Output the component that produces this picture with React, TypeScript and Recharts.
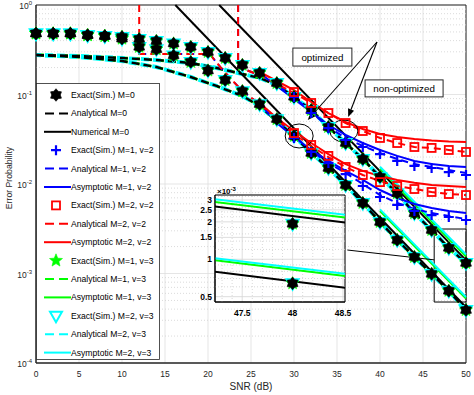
import React from 'react';
import {
  LineChart, Line, XAxis, YAxis, CartesianGrid, ReferenceLine, ReferenceArea, ReferenceDot, Legend,
} from 'recharts';

const FONT = '"Liberation Sans", Arial, Helvetica, sans-serif';
const AXIS = '#262626';
const BLACK = '#000000';
const BLUE = '#0000ff';
const RED = '#ff0000';
const GREEN = '#00ff00';
const CYAN = '#00ffff';

// ---------- axes / ticks ----------
const xTicks = [0, 5, 10, 15, 20, 25, 30, 35, 40, 45, 50];
const yTicks = [0.0001, 0.001, 0.01, 0.1, 1];
const minorMantissas = [2, 3, 4, 5, 6, 7, 8, 9];
const minorDecades = [0.0001, 0.001, 0.01, 0.1];

const insetXTicks = [47.5, 48, 48.5];
const insetYTicks = [0.0005, 0.001, 0.0015, 0.002, 0.0025, 0.003];
const insetXMinor = [47.3, 47.4, 47.6, 47.7, 47.8, 47.9, 48.1, 48.2, 48.3, 48.4];
const insetYMinor = [0.0006, 0.0007, 0.0008, 0.0009, 0.0012, 0.0014, 0.0016, 0.0018, 0.0022, 0.0024, 0.0026, 0.0028, 0.0032];

// ---------- data ----------
// Exact (simulation) markers, M=0 (v=3 markers coincide)
const snrSim = [0, 2, 4, 6, 8, 10, 12, 14, 16, 18, 20, 22, 24, 26, 28, 30, 32, 34, 36, 38, 40, 42, 44, 46, 48, 50];
const simM0NonOpt = [0.48, 0.48, 0.48, 0.46, 0.45, 0.44, 0.417, 0.396, 0.371, 0.34, 0.298, 0.256, 0.214, 0.174, 0.134, 0.094, 0.067, 0.0433, 0.0287, 0.019, 0.012, 0.0079, 0.0047, 0.00306, 0.00193, 0.00131];
const simM0Opt = [0.48, 0.48, 0.48, 0.46, 0.45, 0.42, 0.34, 0.32, 0.273, 0.231, 0.185, 0.145, 0.109, 0.078, 0.053, 0.0344, 0.0222, 0.0151, 0.00975, 0.00614, 0.00376, 0.00237, 0.00153, 0.00099, 0.00064, 0.00039];

// Analytical M=0 (v=3 analytical coincide)
const snrAna = [0, 5, 10, 14, 18, 21, 24, 26, 28, 30, 32, 34, 36, 38, 40, 42, 44, 46, 48, 50];
const anaM0NonOpt = [0.2763, 0.2692, 0.2557, 0.2429, 0.2249, 0.1977, 0.1695, 0.1529, 0.1277, 0.0938, 0.067, 0.0433, 0.0287, 0.019, 0.012, 0.0079, 0.0047, 0.00306, 0.00193, 0.00131];
const anaM0Opt = [0.2763, 0.2624, 0.2367, 0.2029, 0.1568, 0.1245, 0.0962, 0.0744, 0.0506, 0.0344, 0.0222, 0.0151, 0.00975, 0.00614, 0.00376, 0.00237, 0.00153, 0.00099, 0.00064, 0.00039];

// Numerical M=0 (straight asymptotes)
const snrNumNonOpt = [21.3, 50];
const numM0NonOpt = [1, 0.00141];
const snrNumOpt = [16.2, 50];
const numM0Opt = [1, 0.00042];

// Asymptotic v=3
const snrAsyV3 = [40, 50];
const asyM1v3NonOpt = [0.0148, 0.00155];
const asyM2v3NonOpt = [0.0156, 0.00163];
const asyM1v3Opt = [0.005, 0.000526];
const asyM2v3Opt = [0.0052, 0.000547];

// Exact (simulation) v=2
const snrHigh = [30, 32, 34, 36, 38, 40, 42, 44, 46, 48, 50];
const simM1v2NonOpt = [0.0938, 0.0621, 0.0422, 0.031, 0.0259, 0.0216, 0.0181, 0.0159, 0.0151, 0.0136, 0.0126];
const simM1v2Opt = [0.0327, 0.0228, 0.0172, 0.0129, 0.0095, 0.00716, 0.00583, 0.00499, 0.0045, 0.00428, 0.00396];
const simM2v2NonOpt = [0.1066, 0.0804, 0.0621, 0.048, 0.0391, 0.0327, 0.0287, 0.0259, 0.0253, 0.024, 0.0228];
const simM2v2Opt = [0.0371, 0.0273, 0.0206, 0.0155, 0.0126, 0.0105, 0.0095, 0.00879, 0.00814, 0.00773, 0.00753];

// Analytical v=2
const snrAnaV2NonOpt = [23.5, 23.5, 26, 28, 30, 32, 34, 36, 38, 40, 42, 44, 46, 48, 50];
const anaM1v2NonOpt = [1, 0.203, 0.165, 0.131, 0.0938, 0.0637, 0.0433, 0.0327, 0.0266, 0.0222, 0.019, 0.0167, 0.0155, 0.0143, 0.0133];
const anaM2v2NonOpt = [1, 0.203, 0.165, 0.131, 0.1039, 0.0804, 0.0621, 0.048, 0.0391, 0.0327, 0.0287, 0.0259, 0.0253, 0.024, 0.0228];
const snrAnaM1v2Opt = [12, 20.2, 21.7, 24, 26, 28, 30, 32, 34, 36, 38, 40, 42, 44, 46, 48, 50];
const anaM1v2Opt = [0.284, 0.284, 0.188, 0.109, 0.0783, 0.0532, 0.0344, 0.0234, 0.0172, 0.0133, 0.01, 0.00753, 0.00613, 0.00526, 0.00474, 0.00439, 0.00406];
const snrAnaM2v2Opt = [12, 12, 20.2, 21.7, 24, 26, 28, 30, 32, 34, 36, 38, 40, 42, 44, 46, 48, 50];
const anaM2v2Opt = [1, 0.284, 0.284, 0.188, 0.109, 0.0783, 0.0532, 0.0362, 0.0266, 0.02, 0.0155, 0.0126, 0.0108, 0.0095, 0.00879, 0.00814, 0.00773, 0.00753];

// Asymptotic v=2
const snrAsyV2 = [26, 28, 30, 32, 34, 36, 38, 40, 42, 44, 46, 48, 50];
const asyM1v2NonOpt = [0.1739, 0.1245, 0.0891, 0.0637, 0.0456, 0.0353, 0.0287, 0.024, 0.0206, 0.0181, 0.0167, 0.0159, 0.0155];
const asyM1v2Opt = [0.0804, 0.048, 0.0335, 0.024, 0.0181, 0.014, 0.0111, 0.00857, 0.00698, 0.00598, 0.00539, 0.00499, 0.00474];
const asyM2v2NonOpt = [0.1784, 0.1415, 0.1123, 0.0824, 0.0621, 0.0493, 0.0412, 0.0362, 0.0335, 0.0318, 0.0306, 0.0298, 0.0295];
const asyM2v2Opt = [0.0804, 0.0546, 0.0391, 0.0287, 0.0216, 0.0167, 0.014, 0.0123, 0.0111, 0.0103, 0.00975, 0.0095, 0.00926];

// Annotations (data coordinates)
const annoBoxes = [
  { snr: 33.3, p: 0.262, text: 'optimized', w: 59, h: 18 },
  { snr: 42.8, p: 0.117, text: 'non-optimized', w: 78, h: 17 },
];
const annoEllipses = [
  { snr: 30.6, p: 0.0344, rx: 14, ry: 12 },
  { snr: 35.8, p: 0.0391, rx: 14, ry: 11 },
];
const annoArrows = [
  [{ x: 39.65, y: 0.386 }, { x: 31.6, y: 0.0519 }],
  [{ x: 39.65, y: 0.386 }, { x: 36.3, y: 0.0561 }],
];
const zoomBox = { x1: 46.3, x2: 50, y1: 0.00048, y2: 0.00314 };
const connector = [{ x: 36.2, y: 0.00183 }, { x: 46.3, y: 0.00142 }];

const mk = (xs: number[], ys: number[]) => xs.map((snr, i) => ({ snr, p: ys[i] }));

// ---------- marker shapes ----------
const starPath = (cx: number, cy: number, n: number, rOut: number, rIn: number) => {
  let d = '';
  for (let i = 0; i < 2 * n; i++) {
    const r = i % 2 === 0 ? rOut : rIn;
    const a = -Math.PI / 2 + (i * Math.PI) / n;
    d += (i === 0 ? 'M' : 'L') + (cx + r * Math.cos(a)).toFixed(2) + ',' + (cy + r * Math.sin(a)).toFixed(2);
  }
  return d + 'Z';
};
const hexShape = (cx: number, cy: number, k: string) => (
  <path key={k} d={starPath(cx, cy, 6, 6.3, 4.3)} fill={BLACK} stroke={BLACK} strokeWidth={0.6} />
);
const starShape = (cx: number, cy: number, k: string) => (
  <path key={k} d={starPath(cx, cy, 5, 6.8, 3)} fill={GREEN} stroke={GREEN} strokeWidth={0.6} />
);
const triShape = (cx: number, cy: number, k: string) => (
  <path key={k} d={`M${cx - 6},${cy - 4}L${cx + 6},${cy - 4}L${cx},${cy + 6.5}Z`} fill="none" stroke={CYAN} strokeWidth={2} />
);
const plusShape = (cx: number, cy: number, k: string) => (
  <path key={k} d={`M${cx - 5},${cy}L${cx + 5},${cy}M${cx},${cy - 5}L${cx},${cy + 5}`} stroke={BLUE} strokeWidth={2.2} fill="none" />
);
const squareShape = (cx: number, cy: number, k: string) => (
  <rect key={k} x={cx - 4} y={cy - 4} width={8} height={8} fill="none" stroke={RED} strokeWidth={1.8} />
);
const dotOf = (fn: any, tag: string) => (props: any) => {
  const { cx, cy, index } = props;
  if (cx == null || cy == null) return <g key={`${tag}-e-${index}`} />;
  return fn(cx, cy, `${tag}-${index}`);
};

// ---------- ticks & labels ----------
const renderYTick = (props: any) => {
  const { x, y, payload } = props;
  const e = Math.round(Math.log10(payload.value));
  return (
    <text x={x} y={y + 4} textAnchor="end" fontSize={8.5} fill={AXIS} fontFamily={FONT}>
      10<tspan dy={-4} fontSize={6}>{String(e)}</tspan>
    </text>
  );
};
const renderXLabel = () => (
  <text x={251} y={390} textAnchor="middle" fontSize={10} fill={AXIS} fontFamily={FONT}>SNR (dB)</text>
);
const renderYLabel = () => (
  <text x={12} y={178} transform="rotate(-90 12 178)" textAnchor="middle" fontSize={8.7} fill={AXIS} fontFamily={FONT}>Error Probability</text>
);
const renderInsetExp = () => (
  <text x={27} y={9} fontSize={8} fontWeight="bold" fill={BLACK} fontFamily={FONT}>
    ×10<tspan dy={-3} fontSize={6}>-3</tspan>
  </text>
);

const arrowShape = (props: any) => {
  const { x1, y1, x2, y2 } = props;
  const ang = Math.atan2(y2 - y1, x2 - x1);
  const L = 8, W = 3.2;
  const bx = x2 - L * Math.cos(ang), by = y2 - L * Math.sin(ang);
  const p1 = `${bx + W * Math.sin(ang)},${by - W * Math.cos(ang)}`;
  const p2 = `${bx - W * Math.sin(ang)},${by + W * Math.cos(ang)}`;
  return (
    <g>
      <line x1={x1} y1={y1} x2={bx} y2={by} stroke={BLACK} strokeWidth={1.1} />
      <polygon points={`${x2},${y2} ${p1} ${p2}`} fill={BLACK} />
    </g>
  );
};

// ---------- legend ----------
type LegItem = { label: string; kind: 'marker' | 'dash' | 'solid'; color?: string; shape?: any };
const legendItems: LegItem[] = [
  { label: 'Exact(Sim.) M=0', kind: 'marker', shape: hexShape },
  { label: 'Analytical M=0', kind: 'dash', color: BLACK },
  { label: 'Numerical M=0', kind: 'solid', color: BLACK },
  { label: 'Exact(Sim.) M=1, v=2', kind: 'marker', shape: plusShape },
  { label: 'Analytical M=1, v=2', kind: 'dash', color: BLUE },
  { label: 'Asymptotic M=1, v=2', kind: 'solid', color: BLUE },
  { label: 'Exact(Sim.) M=2, v=2', kind: 'marker', shape: squareShape },
  { label: 'Analytical M=2, v=2', kind: 'dash', color: RED },
  { label: 'Asymptotic M=2, v=2', kind: 'solid', color: RED },
  { label: 'Exact(Sim.) M=1, v=3', kind: 'marker', shape: starShape },
  { label: 'Analytical M=1, v=3', kind: 'dash', color: GREEN },
  { label: 'Asymptotic M=1, v=3', kind: 'solid', color: GREEN },
  { label: 'Exact(Sim.) M=2, v=3', kind: 'marker', shape: triShape },
  { label: 'Analytical M=2, v=3', kind: 'dash', color: CYAN },
  { label: 'Asymptotic M=2, v=3', kind: 'solid', color: CYAN },
];
const LegendBox = () => (
  <svg width={124} height={277} style={{ display: 'block' }}>
    <rect x={0.5} y={0.5} width={123} height={276} fill="#fff" stroke={AXIS} strokeWidth={0.8} />
    {legendItems.map((it, i) => {
      const y = 12 + i * 18.4;
      let icon: any = null;
      if (it.kind === 'marker') icon = it.shape(20, y, `li${i}`);
      else if (it.kind === 'dash') icon = <line x1={9} y1={y} x2={32} y2={y} stroke={it.color} strokeWidth={2} strokeDasharray="9 5" />;
      else icon = <line x1={8} y1={y} x2={35} y2={y} stroke={it.color} strokeWidth={2} />;
      return (
        <g key={i}>
          {icon}
          <text x={35} y={y + 3} fontSize={8.6} fill={BLACK} fontFamily={FONT}>{it.label}</text>
        </g>
      );
    })}
  </svg>
);

// ---------- series definitions ----------
const lineSeries = [
  // v=3 analytical (under M=0 analytical)
  { id: 'a13n', data: mk(snrAna, anaM0NonOpt), color: GREEN, w: 3, dash: '8 4', off: 0 },
  { id: 'a13o', data: mk(snrAna, anaM0Opt), color: GREEN, w: 3, dash: '8 4', off: 0 },
  { id: 'a23n', data: mk(snrAna, anaM0NonOpt), color: CYAN, w: 4, dash: '8 4', off: 3 },
  { id: 'a23o', data: mk(snrAna, anaM0Opt), color: CYAN, w: 4, dash: '8 4', off: 3 },
  { id: 'a0n', data: mk(snrAna, anaM0NonOpt), color: BLACK, w: 2.4, dash: '8 4', off: 0 },
  { id: 'a0o', data: mk(snrAna, anaM0Opt), color: BLACK, w: 2.4, dash: '8 4', off: 0 },
  { id: 'n0n', data: mk(snrNumNonOpt, numM0NonOpt), color: BLACK, w: 2, dash: undefined, off: 0 },
  { id: 'n0o', data: mk(snrNumOpt, numM0Opt), color: BLACK, w: 2, dash: undefined, off: 0 },
  { id: 's13n', data: mk(snrAsyV3, asyM1v3NonOpt), color: GREEN, w: 2, dash: undefined, off: 0 },
  { id: 's13o', data: mk(snrAsyV3, asyM1v3Opt), color: GREEN, w: 2, dash: undefined, off: 0 },
  { id: 's23n', data: mk(snrAsyV3, asyM2v3NonOpt), color: CYAN, w: 2, dash: undefined, off: 0 },
  { id: 's23o', data: mk(snrAsyV3, asyM2v3Opt), color: CYAN, w: 2, dash: undefined, off: 0 },
  { id: 'a12n', data: mk(snrAnaV2NonOpt, anaM1v2NonOpt), color: BLUE, w: 2, dash: '7 5', off: 0 },
  { id: 'a12o', data: mk(snrAnaM1v2Opt, anaM1v2Opt), color: BLUE, w: 2, dash: '7 5', off: 0 },
  { id: 's12n', data: mk(snrAsyV2, asyM1v2NonOpt), color: BLUE, w: 2, dash: undefined, off: 0 },
  { id: 's12o', data: mk(snrAsyV2, asyM1v2Opt), color: BLUE, w: 2, dash: undefined, off: 0 },
  { id: 'a22n', data: mk(snrAnaV2NonOpt, anaM2v2NonOpt), color: RED, w: 2, dash: '7 5', off: 0 },
  { id: 'a22o', data: mk(snrAnaM2v2Opt, anaM2v2Opt), color: RED, w: 2, dash: '7 5', off: 0 },
  { id: 's22n', data: mk(snrAsyV2, asyM2v2NonOpt), color: RED, w: 2, dash: undefined, off: 0 },
  { id: 's22o', data: mk(snrAsyV2, asyM2v2Opt), color: RED, w: 2, dash: undefined, off: 0 },
];
const markerSeries = [
  { id: 'tri-n', data: mk(snrSim, simM0NonOpt), shape: triShape },
  { id: 'tri-o', data: mk(snrSim, simM0Opt), shape: triShape },
  { id: 'star-n', data: mk(snrSim, simM0NonOpt), shape: starShape },
  { id: 'star-o', data: mk(snrSim, simM0Opt), shape: starShape },
  { id: 'hex-n', data: mk(snrSim, simM0NonOpt), shape: hexShape },
  { id: 'hex-o', data: mk(snrSim, simM0Opt), shape: hexShape },
  { id: 'plus-n', data: mk(snrHigh, simM1v2NonOpt), shape: plusShape },
  { id: 'plus-o', data: mk(snrHigh, simM1v2Opt), shape: plusShape },
  { id: 'sq-n', data: mk(snrHigh, simM2v2NonOpt), shape: squareShape },
  { id: 'sq-o', data: mk(snrHigh, simM2v2Opt), shape: squareShape },
];

const minorGrid = minorDecades.flatMap((d) => minorMantissas.map((m) => m * d));

export default function App() {
  return (
    <div style={{ position: 'absolute', left: 0, top: 0, width: 474, height: 395, background: '#fff', fontFamily: FONT }}>
      <LineChart width={474} height={395} margin={{ top: 5, right: 8, bottom: 0, left: 0 }}>
        <CartesianGrid stroke="#dedede" strokeWidth={0.8} />
        {minorGrid.map((v) => (
          <ReferenceLine key={`mg${v}`} y={v} stroke="#d2d2d2" strokeWidth={0.8} strokeDasharray="1 2" />
        ))}
        <XAxis
          type="number" dataKey="snr" domain={[0, 50]} ticks={xTicks} interval={0}
          stroke={AXIS} tickLine={false} height={32}
          tick={{ fontSize: 8.5, fill: AXIS, fontFamily: FONT }}
          label={{ content: renderXLabel }}
        />
        <YAxis
          type="number" scale="log" domain={[0.0001, 1]} ticks={yTicks} interval={0}
          stroke={AXIS} width={36} tickLine={false} tickSize={4} tickMargin={0}
          tick={renderYTick}
          label={{ content: renderYLabel }}
        />
        {lineSeries.map((s) => (
          <Line
            key={s.id} data={s.data} dataKey="p" type="linear" stroke={s.color} strokeWidth={s.w}
            strokeDasharray={s.dash} strokeDashoffset={s.off} dot={false} activeDot={false}
            isAnimationActive={false} legendType="none"
          />
        ))}
        {markerSeries.map((s) => (
          <Line
            key={s.id} data={s.data} dataKey="p" stroke="none" dot={dotOf(s.shape, s.id)}
            activeDot={false} isAnimationActive={false} legendType="none"
          />
        ))}
        <ReferenceArea x1={zoomBox.x1} x2={zoomBox.x2} y1={zoomBox.y1} y2={zoomBox.y2} fill="none" fillOpacity={0} stroke={BLACK} strokeWidth={1} />
        <ReferenceLine segment={connector} stroke={BLACK} strokeWidth={1} />
        {annoEllipses.map((e, i) => (
          <ReferenceDot
            key={`el${i}`} x={e.snr} y={e.p} r={1}
            shape={(p: any) => <ellipse cx={p.cx} cy={p.cy} rx={e.rx} ry={e.ry} fill="none" stroke={BLACK} strokeWidth={1} />}
          />
        ))}
        {annoArrows.map((seg, i) => (
          <ReferenceLine key={`ar${i}`} segment={seg} stroke={BLACK} shape={arrowShape} />
        ))}
        {annoBoxes.map((b, i) => (
          <ReferenceDot
            key={`bx${i}`} x={b.snr} y={b.p} r={1}
            shape={(p: any) => (
              <g>
                <rect x={p.cx - b.w / 2} y={p.cy - b.h / 2} width={b.w} height={b.h} fill="#fff" stroke={AXIS} strokeWidth={1} />
                <text x={p.cx} y={p.cy + 3.5} textAnchor="middle" fontSize={9.8} fill={BLACK} fontFamily={FONT}>{b.text}</text>
              </g>
            )}
          />
        ))}
        <ReferenceArea x1={0} x2={50} y1={0.0001} y2={1} fill="none" fillOpacity={0} stroke={AXIS} strokeWidth={1} />
        <Legend
          layout="vertical" align="center" verticalAlign="middle"
          content={() => <LegendBox />}
          wrapperStyle={{ position: 'absolute', left: 36, top: 83, width: 124, height: 277 }}
        />
      </LineChart>

      <div style={{ position: 'absolute', left: 190, top: 185, width: 167, height: 135 }}>
        <LineChart width={167} height={135} margin={{ top: 10, right: 12, bottom: 0, left: 0 }}>
          <CartesianGrid fill="#fff" fillOpacity={1} stroke="#d6d6d6" strokeWidth={0.8} />
          {insetXMinor.map((v) => (
            <ReferenceLine key={`ix${v}`} x={v} stroke="#cfcfcf" strokeWidth={0.8} strokeDasharray="1 2" />
          ))}
          {insetYMinor.map((v) => (
            <ReferenceLine key={`iy${v}`} y={v} stroke="#cfcfcf" strokeWidth={0.8} strokeDasharray="1 2" />
          ))}
          <XAxis
            type="number" dataKey="snr" domain={[47.23, 48.52]} allowDataOverflow ticks={insetXTicks} interval={0}
            stroke={BLACK} tickLine={false} height={18}
            tick={{ fontSize: 8.5, fontWeight: 'bold', fill: BLACK, fontFamily: FONT }}
          />
          <YAxis
            type="number" scale="log" domain={[0.000453, 0.00329]} allowDataOverflow ticks={insetYTicks} interval={0}
            stroke={BLACK} width={25} tickLine={false} tickSize={3} tickMargin={0}
            tickFormatter={(v: number) => String(+(v * 1000).toFixed(1))}
            tick={{ fontSize: 8.5, fontWeight: 'bold', fill: BLACK, fontFamily: FONT }}
            label={{ content: renderInsetExp }}
          />
          {lineSeries.filter((s) => !s.dash).map((s) => (
            <Line
              key={`in-${s.id}`} data={s.data} dataKey="p" type="linear" stroke={s.color} strokeWidth={2}
              dot={false} activeDot={false} isAnimationActive={false} legendType="none"
            />
          ))}
          {markerSeries.slice(0, 6).map((s) => (
            <Line
              key={`in-${s.id}`} data={s.data} dataKey="p" stroke="none" dot={dotOf(s.shape, `in-${s.id}`)}
              activeDot={false} isAnimationActive={false} legendType="none"
            />
          ))}
          <ReferenceArea x1={47.23} x2={48.52} y1={0.000453} y2={0.00329} fill="none" fillOpacity={0} stroke={BLACK} strokeWidth={1} ifOverflow="visible" />
        </LineChart>
      </div>
    </div>
  );
}
